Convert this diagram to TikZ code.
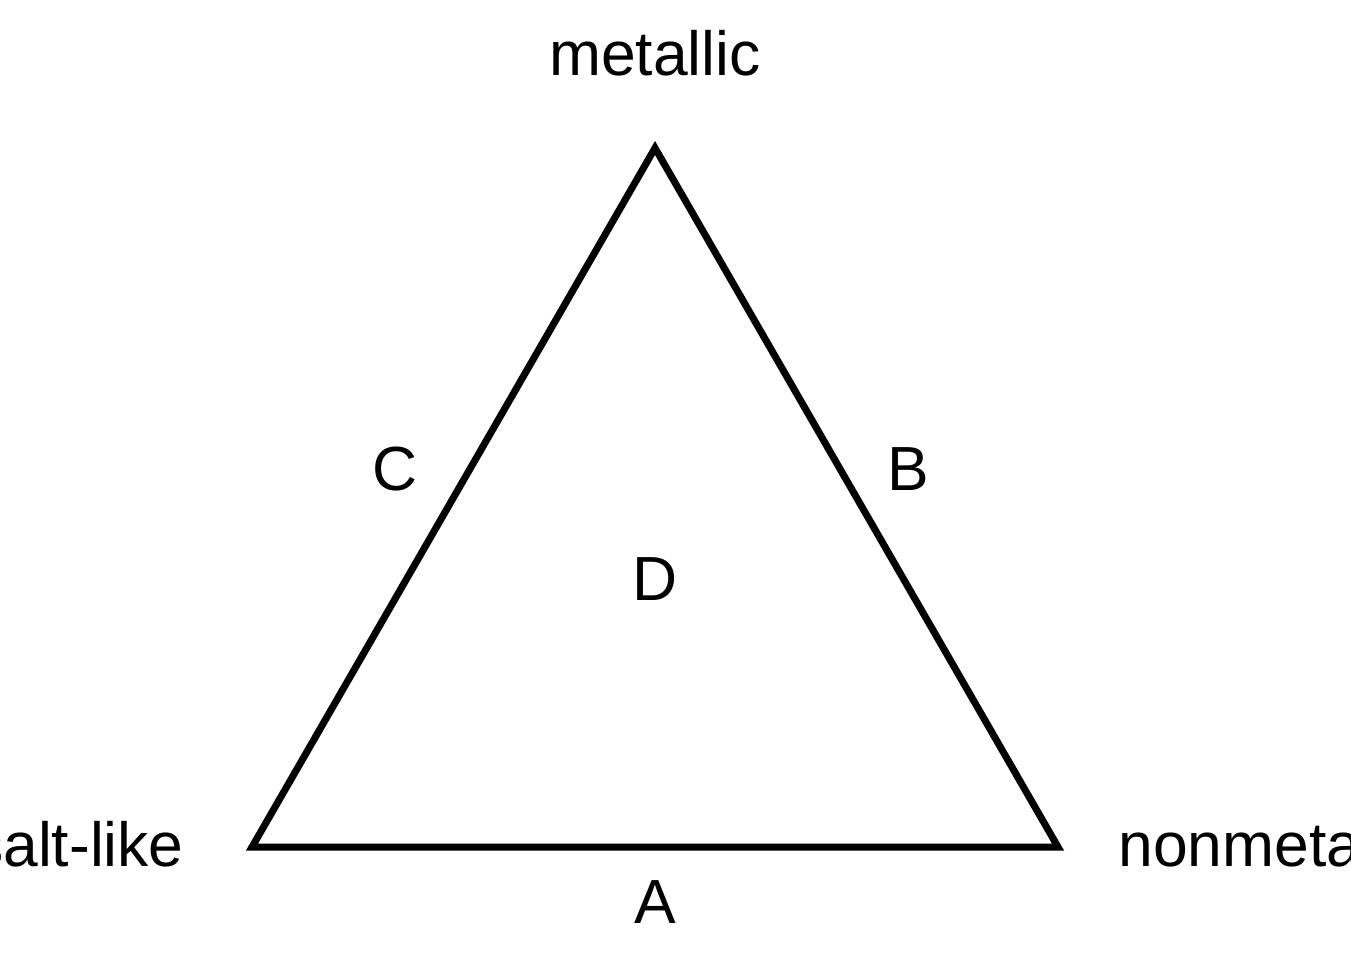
\documentclass[tikz,border=0pt]{standalone}
\usepackage{fontspec}
\setmainfont{Liberation Sans}
\usepackage{tikz}
\tikzstyle{lbl} = [inner sep=0pt, font=\fontsize{35.5}{40}\selectfont]
\tikzstyle{edge} = [draw, line width=4pt, line join=miter]

\begin{document}
\begin{tikzpicture}[x=0.02cm, y=-0.02cm]
 \useasboundingbox (0,0) rectangle (1351,968);
 % Place corners
   \coordinate (top) at (655,148);
   \coordinate (left) at (252,847);
   \coordinate (right) at (1058,847);

 % Labels
   \node[lbl, anchor=base] (met) at (655,75) {metallic};
   \node[lbl, anchor=base east] (salt) at (184,866) {salt-like};
   \node[lbl, anchor=base west] (non) at (1118,866) {nonmetallic};
   \node[lbl, anchor=base] (A) at (655,923) {A};
   \node[lbl, anchor=base] (B) at (908,490) {B};
   \node[lbl, anchor=base] (C) at (395,490) {C};
   \node[lbl, anchor=base] (D) at (655,600) {D};

 % Draw edges
   \path [edge] (top) -- (right) -- (left) -- cycle;
\end{tikzpicture}
\end{document}
